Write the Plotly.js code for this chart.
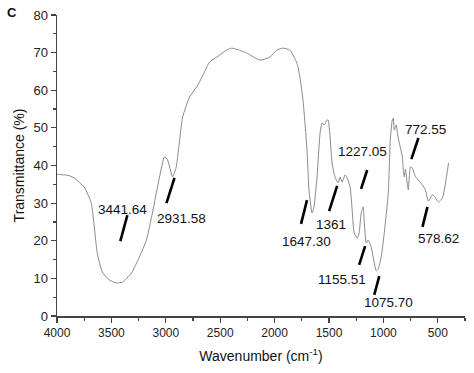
<!DOCTYPE html>
<html><head><meta charset="utf-8">
<script src="https://cdn.plot.ly/plotly-3.0.1.min.js"></script>
<style>html,body{margin:0;padding:0;background:#fff;}#chart{width:474px;height:373px;}</style>
</head><body><div id="chart"></div>
<script>
// Spectrum (wavenumber cm^-1, transmittance %)
const wavenumber = [4000,3981,3900,3842,3750,3685,3630,3584,3520,3455,3399,3316,3243,3178,3123,3058,3012,2984,2938,2905,2880,2845,2781,2716,2662,2597,2532,2440,2394,2320,2256,2136,2044,1979,1924,1859,1795,1767,1739,1702,1684,1656,1638,1610,1582,1564,1545,1518,1508,1490,1472,1444,1416,1398,1379,1352,1333,1306,1287,1269,1241,1223,1204,1186,1177,1158,1140,1112,1094,1066,1047,1020,992,955,937,918,909,900,881,872,854,826,817,808,798,780,771,762,752,734,706,678,641,614,586,549,521,494,457,429,401];
const transmittance = [37.7,37.6,37.4,36.7,34.3,30.0,16.7,11.7,9.6,8.8,9.0,11.4,15.7,20.2,27.4,36.9,42.3,41.5,37.0,39.5,45.0,52.9,58.2,60.9,63.8,67.5,68.8,70.7,71.2,70.6,69.9,68.0,68.8,70.7,71.2,70.7,67.2,63.5,57.4,44.1,33.5,27.4,29.0,36.9,48.6,51.3,50.8,52.1,52.1,47.6,40.7,36.9,35.4,36.9,35.6,37.5,36.7,34.3,28.2,22.1,20.7,22.1,27.4,29.0,25.5,19.4,20.2,18.3,15.7,12.0,12.5,15.7,22.1,32.7,46.8,52.1,52.6,49.4,50.8,48.6,46.0,42.3,38.8,37.0,39.0,35.0,33.5,37.0,39.6,39.3,37.0,36.1,34.8,33.5,30.5,32.2,31.4,30.3,31.4,35.4,40.7];

// Peak labels and their marker lines
const peakLabels = ["3441.64","2931.58","1647.30","1361","1227.05","1155.51","1075.70","772.55","578.62"];
const labelX = [3395,2855,1711,1480,1195,1379,955,614,494];
const labelY = [28.4,26.0,19.9,24.2,43.6,9.6,3.5,49.7,20.7];
const tickTopX = [3353,2920,1702,1425,1149,1168,1038,678,595];
const tickTopY = [26.8,36.7,30.8,34.6,38.8,18.6,10.6,47.3,29.0];
const tickBotX = [3418,2994,1757,1499,1205,1223,1084,743,641];
const tickBotY = [19.9,30.0,24.5,27.9,33.8,13.6,5.6,41.7,23.7];

const xTickVals = [4000,3500,3000,2500,2000,1500,1000,500];
const yTickVals = [0,10,20,30,40,50,60,70,80];

const segX = [], segY = [];
for (let i = 0; i < peakLabels.length; i++) {
  segX.push(tickTopX[i], tickBotX[i], null);
  segY.push(tickTopY[i], tickBotY[i], null);
}

const font = "Liberation Sans, Arial, sans-serif";
const traces = [
  {x: wavenumber, y: transmittance, type: 'scatter', mode: 'lines',
   line: {color: '#8a8a8a', width: 1, shape: 'spline', smoothing: 0.5}, hoverinfo: 'skip'},
  {x: segX, y: segY, type: 'scatter', mode: 'lines',
   line: {color: '#000', width: 2.6}, connectgaps: false, hoverinfo: 'skip'}
];

const annotations = peakLabels.map((t, i) => ({
  x: labelX[i], y: labelY[i], xref: 'x', yref: 'y', text: t, showarrow: false,
  xanchor: 'center', yanchor: 'middle', font: {family: font, size: 13.5, color: '#111'}
}));
annotations.push({x: (12 - 57) / (465 - 57), y: (316 - 13) / (316 - 15), xref: 'paper', yref: 'paper',
  text: '<b>C</b>', showarrow: false, xanchor: 'center', yanchor: 'middle',
  font: {family: font, size: 13, color: '#111'}});

const layout = {
  width: 474, height: 373,
  margin: {l: 57, r: 9, t: 15, b: 57},
  paper_bgcolor: '#fff', plot_bgcolor: '#fff',
  showlegend: false,
  font: {family: font, color: '#222'},
  xaxis: {
    range: [4000, 250], tickvals: xTickVals, ticks: 'outside', ticklen: 5, tickwidth: 1.2,
    tickcolor: '#444', showline: true, linecolor: '#444', linewidth: 1.5, showgrid: false, zeroline: false,
    tickfont: {family: font, size: 12, color: '#222'},
    minor: {dtick: 250, tick0: 0, ticks: 'outside', ticklen: 3, tickcolor: '#444', showgrid: false},
    title: {text: 'Wavenumber (cm<sup>-1</sup>)', font: {family: font, size: 14, color: '#111'}, standoff: 12}
  },
  yaxis: {
    range: [0, 80], tickvals: yTickVals, ticks: 'outside', ticklen: 5, tickwidth: 1.2,
    tickcolor: '#444', showline: true, linecolor: '#444', linewidth: 1.5, showgrid: false, zeroline: false,
    tickfont: {family: font, size: 13, color: '#222'},
    minor: {dtick: 5, tick0: 0, ticks: 'outside', ticklen: 3, tickcolor: '#444', showgrid: false},
    title: {text: 'Transmittance (%)', font: {family: font, size: 14, color: '#111'}, standoff: 5}
  },
  annotations: annotations
};

Plotly.newPlot('chart', traces, layout, {displayModeBar: false, staticPlot: true});
</script>
</body></html>
